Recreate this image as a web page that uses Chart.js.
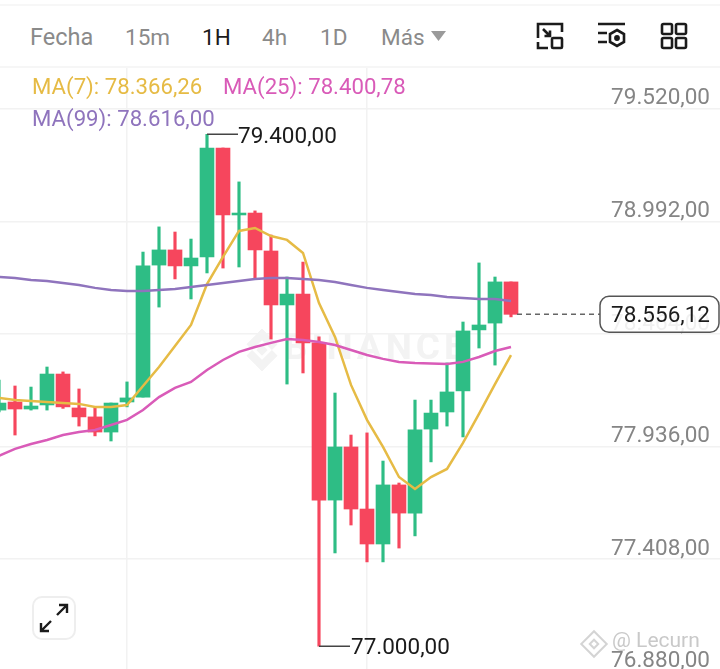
<!DOCTYPE html>
<html>
<head>
<meta charset="utf-8">
<title>Velas 1H</title>
<script src="https://cdn.jsdelivr.net/npm/chart.js@4"></script>
<style>
html, body { margin: 0; padding: 0; width: 720px; height: 669px; overflow: hidden; background: #fff; }
body { position: relative; font-family: Roboto, sans-serif; }
#chart { position: absolute; left: 0; top: 0; }
#bar { position: absolute; left: 0; top: 0; width: 720px; height: 66px; background: #fff; border-bottom: 2px solid #f6f6f6; box-sizing: content-box; }
#bar:before { content: ""; position: absolute; left: 0; right: 0; top: 4px; height: 2px; background: #f7f7f7; }
#bar span { position: absolute; top: 22px; font-size: 22.5px; line-height: 30px; color: #8a8a8a; white-space: nowrap; }
#bar span.on { color: #1b1b1b; }
#bar svg { position: absolute; }
.ma { position: absolute; font-size: 22.2px; line-height: 26px; white-space: nowrap; }
#zoomBtn { position: absolute; left: 32px; top: 596px; width: 44px; height: 44px; box-sizing: border-box; border: 2px solid #eeeeee; border-radius: 10px; background: #fff; }
</style>
</head>
<body>
<canvas id="chart" width="720" height="676"></canvas>

<div id="bar">
  <span style="left:30px;font-size:23.5px">Fecha</span>
  <span style="left:125px">15m</span>
  <span class="on" style="left:202px">1H</span>
  <span style="left:262px">4h</span>
  <span style="left:320px">1D</span>
  <span style="left:381px">Más</span>
  <svg style="left:431px;top:31px" width="15" height="11"><path d="M0 0H15L7.5 10Z" fill="#9a9a9a"/></svg>
  <svg style="left:536px;top:22px" width="28" height="28" fill="none" stroke="#1b1b1b" stroke-width="2.6">
    <path d="M2 16V2H26V10M2 20V26H12"/><rect x="16" y="16" width="10" height="10" rx="1"/>
    <path d="M7 7L14 14M14 8.5V14H8.5"/>
  </svg>
  <svg style="left:596px;top:22px" width="30" height="28" fill="none" stroke="#1b1b1b" stroke-width="2.6">
    <path d="M2 2H29M2 11H11M2 20H11"/><path d="M21 8L28 12V20L21 24L14 20V12Z"/><circle cx="21" cy="16" r="1.6" fill="#1b1b1b"/>
  </svg>
  <svg style="left:660px;top:22px" width="28" height="28" fill="none" stroke="#1b1b1b" stroke-width="2.6">
    <rect x="2" y="2" width="10" height="10" rx="1.5"/><rect x="16" y="2" width="10" height="10" rx="1.5"/>
    <rect x="2" y="16" width="10" height="10" rx="1.5"/><rect x="16" y="16" width="10" height="10" rx="1.5"/>
  </svg>
</div>

<div class="ma" style="left:32px;top:73px;color:#e6bb45">MA(7): 78.366,26</div>
<div class="ma" style="left:223px;top:73px;color:#d95bb8">MA(25): 78.400,78</div>
<div class="ma" style="left:32px;top:105px;color:#8f74bd">MA(99): 78.616,00</div>

<div id="zoomBtn">
  <svg width="40" height="40" fill="none" stroke="#1b1b1b" stroke-width="2.4">
    <path d="M7 33L17 23M7 25V33H15M33 7L23 17M25 7H33V15"/>
  </svg>
</div>

<script>
// valores, una vela por hora
var opens = [78107,78145,78112,78131,78276,78117,78075,78004,78145,78168,78787,78858,78783,78825,79336,79022,79031,78853,78600,78651,78422,77685,77934,77643,77479,77756,77624,78018,78098,78197,78483,78515,78708];
var closes = [78140,78112,78126,78276,78122,78075,78004,78140,78164,78783,78858,78783,78820,79336,79022,79031,78858,78600,78651,78422,77685,77934,77643,77479,77756,77624,78014,78093,78192,78478,78506,78708,78556];
var highs = [78248,78220,78215,78309,78286,78206,78122,78140,78239,78848,78966,78942,78909,79400,79336,79177,79041,78928,78731,78801,78450,78187,77990,78000,77868,77765,78154,78154,78328,78520,78797,78731,78708];
var lows = [78098,77990,78107,78107,78115,78032,77986,77962,78122,78168,78590,78722,78628,78750,78773,78778,78722,78440,78229,78281,77000,77437,77568,77395,77395,77460,77517,77864,78032,77981,78398,78318,78544];

var ma7 = [78164,78154,78150,78145,78140,78136,78122,78122,78131,78220,78309,78408,78506,78698,78825,78947,78961,78923,78905,78844,78609,78450,78225,78061,77934,77793,77737,77793,77831,77953,78089,78229,78365];
var ma25 = [77892,77925,77948,77967,77990,78004,78014,78037,78061,78107,78168,78211,78239,78295,78342,78380,78403,78422,78440,78436,78426,78412,78389,78365,78347,78333,78328,78325,78323,78333,78356,78384,78403];
var ma99 = [78731,78726,78717,78712,78703,78694,78680,78670,78665,78665,78670,78675,78684,78694,78703,78712,78722,78726,78726,78722,78717,78708,78694,78680,78670,78661,78651,78647,78637,78633,78628,78628,78619];

var yTicks = [79520, 78992, 78464, 77936, 77408, 76880];
var yTickLabels = ["79.520,00", "78.992,00", "78.464,00", "77.936,00", "77.408,00", "76.880,00"];
var xTicks = [8, 23];
var lastPrice = 78556.12;
var lastPriceLabel = "78.556,12";
var highLabel = "79.400,00";
var lowLabel = "77.000,00";

var up = '#2ebd85';
var down = '#f6465d';

function candleColor(ctx) {
    var i = ctx.dataIndex;
    return closes[i] >= opens[i] ? up : down;
}

function xy(list) {
    return list.map(function (v, i) { return { x: i, y: v }; });
}

function lineSet(list, color) {
    return {
        type: 'line', data: xy(list), borderColor: color, borderWidth: 2.5,
        pointRadius: 0, tension: 0, order: 1
    };
}

var wicks = highs.map(function (h, i) { return { x: i, y: [lows[i], h] }; });
var bodies = opens.map(function (o, i) { return { x: i, y: [o, closes[i]] }; });

// filigrane derriere les bougies
var watermark = {
    id: 'watermark',
    beforeDatasetsDraw: function (chart) {
        var c = chart.ctx;
        c.save();
        c.fillStyle = '#f3f3f3';
        c.font = 'bold 37px Roboto';
        c.textBaseline = 'middle';
        c.textAlign = 'left';
        c.letterSpacing = '4px';
        c.fillText('BINANCE', 284, 350);
        c.translate(262, 350);
        c.rotate(Math.PI / 4);
        c.fillRect(-4, -4, 8, 8);
        c.fillRect(-15, -15, 8, 22);
        c.fillRect(-15, -15, 22, 8);
        c.fillRect(7, -7, 8, 22);
        c.fillRect(-7, 7, 22, 8);
        c.restore();
    }
};

// etiquettes de l'axe, prix max/min et dernier prix
var overlay = {
    id: 'overlay',
    afterDraw: function (chart) {
        var c = chart.ctx, sx = chart.scales.x, sy = chart.scales.y;
        c.save();

        c.font = '22.5px Roboto';
        c.fillStyle = '#858585';
        c.textAlign = 'right';
        c.textBaseline = 'middle';
        yTicks.forEach(function (t, i) {
            c.fillText(yTickLabels[i], 710, sy.getPixelForValue(t) - 10);
        });

        var hi = highs.indexOf(Math.max.apply(null, highs));
        var lo = lows.indexOf(Math.min.apply(null, lows));
        var hx = sx.getPixelForValue(hi), hy = sy.getPixelForValue(highs[hi]);
        var lx = sx.getPixelForValue(lo), ly = sy.getPixelForValue(lows[lo]);
        c.strokeStyle = '#444';
        c.lineWidth = 1.5;
        c.beginPath();
        c.moveTo(hx, hy); c.lineTo(hx + 31, hy);
        c.moveTo(lx, ly); c.lineTo(lx + 31, ly);
        c.stroke();
        c.fillStyle = '#1b1b1b';
        c.textAlign = 'left';
        c.fillText(highLabel, hx + 31, hy + 3);
        c.fillText(lowLabel, lx + 32, ly + 2);

        var py = sy.getPixelForValue(lastPrice);
        var last = sx.getPixelForValue(closes.length - 1) + 6;
        c.strokeStyle = '#666';
        c.setLineDash([5, 4]);
        c.beginPath();
        c.moveTo(last, py); c.lineTo(600, py);
        c.stroke();
        c.setLineDash([]);
        c.beginPath();
        c.roundRect(600, py - 18, 119, 36, 9);
        c.fillStyle = 'rgba(255,255,255,0.88)';
        c.fill();
        c.strokeStyle = '#555';
        c.lineWidth = 1.5;
        c.stroke();
        c.fillStyle = '#1b1b1b';
        c.textAlign = 'right';
        c.fillText(lastPriceLabel, 710, py + 2);

        // signature en bas a droite
        c.fillStyle = '#c9c9c9';
        c.textAlign = 'left';
        c.font = '21px Roboto';
        c.fillText('@ Lecurn', 612, 642);
        c.translate(594, 644);
        c.rotate(Math.PI / 4);
        c.strokeStyle = '#d4d4d4';
        c.lineWidth = 2;
        c.strokeRect(-9, -9, 18, 18);
        c.strokeRect(-3, -3, 6, 6);
        c.restore();
    }
};

var chart = new Chart(document.getElementById('chart').getContext('2d'), {
    data: {
        datasets: [
            lineSet(ma99, '#8f74bd'),
            lineSet(ma25, '#d95bb8'),
            lineSet(ma7, '#e6bb45'),
            { type: 'bar', data: bodies, backgroundColor: candleColor, barThickness: 14, borderSkipped: false, grouped: false, order: 2 },
            { type: 'bar', data: wicks, backgroundColor: candleColor, barThickness: 2.5, borderSkipped: false, grouped: false, order: 3 }
        ]
    },
    options: {
        responsive: false,
        animation: false,
        layout: { padding: 0 },
        plugins: { legend: { display: false }, tooltip: { enabled: false } },
        scales: {
            x: {
                type: 'linear', min: 0.0625, max: 45.0625, offset: false,
                afterBuildTicks: function (s) { s.ticks = xTicks.map(function (v) { return { value: v }; }); },
                ticks: { display: false },
                grid: { color: '#f2f2f2', lineWidth: 1.5, drawTicks: false, offset: false },
                border: { display: false }
            },
            y: {
                type: 'linear', position: 'right', min: 76860, max: 80030,
                afterBuildTicks: function (s) { s.ticks = yTicks.map(function (v) { return { value: v }; }); },
                ticks: { display: false },
                grid: { color: '#f2f2f2', lineWidth: 1.5, drawTicks: false },
                border: { display: false }
            }
        }
    },
    plugins: [watermark, overlay]
});
</script>
</body>
</html>
